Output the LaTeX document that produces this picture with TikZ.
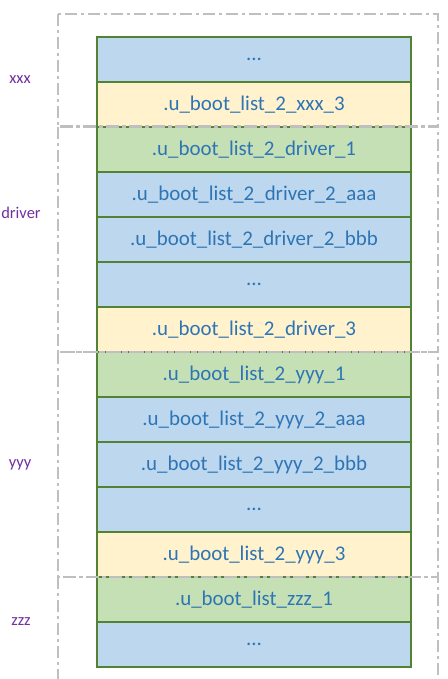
\documentclass[tikz,border=0pt]{standalone}
\usepackage{fontspec}
\setmainfont{Carlito}
\definecolor{cblue}{HTML}{BDD7EE}
\definecolor{cyel}{HTML}{FFF2CC}
\definecolor{cgreen}{HTML}{C5E0B4}
\definecolor{cedge}{HTML}{548235}
\definecolor{ctext}{HTML}{2E75B6}
\definecolor{cpurple}{HTML}{7030A0}
\definecolor{cgrey}{HTML}{BFBFBF}
\tikzset{
  row/.style={draw=cedge, line width=1.5bp, minimum width=314bp, minimum height=45bp,
    inner sep=0pt, font=\fontsize{21}{25}\selectfont, text=ctext},
  bl/.style={row, fill=cblue},
  ye/.style={row, fill=cyel},
  gr/.style={row, fill=cgreen},
  grp/.style={draw=cgrey, line width=2bp, dash pattern=on 12bp off 4bp on 3bp off 4bp},
  lab/.style={font=\fontsize{16.5}{20}\selectfont, text=cpurple, inner sep=0pt}
}
\begin{document}
\begin{tikzpicture}[x=1bp,y=-1bp]
\clip (0,0) rectangle (448,679);
\fill[white] (0,0) rectangle (448,679);
\node[bl] (r1) at (254,59.5) {...};
\node[ye] (r2) at (254,104.5) {.u\_boot\_list\_2\_xxx\_3};
\node[gr] (r3) at (254,149.5) {.u\_boot\_list\_2\_driver\_1};
\node[bl] (r4) at (254,194.5) {.u\_boot\_list\_2\_driver\_2\_aaa};
\node[bl] (r5) at (254,239.5) {.u\_boot\_list\_2\_driver\_2\_bbb};
\node[bl] (r6) at (254,284.5) {...};
\node[ye] (r7) at (254,329.5) {.u\_boot\_list\_2\_driver\_3};
\node[gr] (r8) at (254,374.5) {.u\_boot\_list\_2\_yyy\_1};
\node[bl] (r9) at (254,419.5) {.u\_boot\_list\_2\_yyy\_2\_aaa};
\node[bl] (r10) at (254,464.5) {.u\_boot\_list\_2\_yyy\_2\_bbb};
\node[bl] (r11) at (254,509.5) {...};
\node[ye] (r12) at (254,554.5) {.u\_boot\_list\_2\_yyy\_3};
\node[gr] (r13) at (254,599.5) {.u\_boot\_list\_zzz\_1};
\node[bl] (r14) at (254,644.5) {...};
\draw[grp] (58,14) rectangle (438,126.5);
\draw[grp] (58,126.5) rectangle (438,351.5);
\draw[grp] (58,351.5) rectangle (438,576.5);
\draw[grp] (58,576.5) rectangle (438,700);
\node[lab] (lx) at (20,80) {xxx};
\node[lab] (ld) at (21,213) {driver};
\node[lab] (ly) at (20,465) {yyy};
\node[lab] (lz) at (21,622) {zzz};
\end{tikzpicture}
\end{document}
